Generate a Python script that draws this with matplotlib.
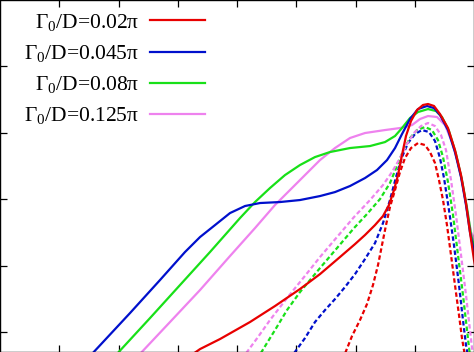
import matplotlib
matplotlib.use("Agg")
import matplotlib.pyplot as plt

plt.rcParams['mathtext.fontset'] = 'custom'
plt.rcParams['mathtext.rm'] = 'Liberation Serif'
plt.rcParams['mathtext.it'] = 'Liberation Serif:italic'
plt.rcParams['mathtext.bf'] = 'Liberation Serif:bold'

labels = [r"$\Gamma_0$/D=0.02π", r"$\Gamma_0$/D=0.045π", r"$\Gamma_0$/D=0.08π", r"$\Gamma_0$/D=0.125π"]
colors = ['#e80000', '#0010cc', '#18e018', '#ee82ee']

# solid curves
red_x = [3.207, 3.376, 3.713, 4.219, 4.641, 5.063, 5.401, 5.738, 5.992, 6.160, 6.329, 6.464, 6.565, 6.650,
         6.717, 6.785, 6.852, 6.937, 7.038, 7.139, 7.224, 7.325, 7.426, 7.561, 7.679, 7.781, 7.865, 7.932, 8.000, 8.034]
red_y = [-0.361, -0.256, -0.105, 0.151, 0.392, 0.648, 0.873, 1.130, 1.325, 1.461, 1.611, 1.747, 1.913, 2.139,
         2.364, 2.666, 2.952, 3.178, 3.343, 3.419, 3.434, 3.404, 3.283, 3.072, 2.741, 2.364, 1.943, 1.506, 1.084, 0.904]

blue_x = [1.519, 2.194, 2.700, 3.122, 3.376, 3.629, 3.882, 4.135, 4.388, 4.726, 5.063, 5.401, 5.654, 5.907,
          6.160, 6.363, 6.532, 6.667, 6.785, 6.920, 7.055, 7.207, 7.325, 7.426, 7.561, 7.679, 7.781, 7.865, 7.932, 8.000, 8.03]
blue_y = [-0.361, 0.286, 0.783, 1.205, 1.431, 1.611, 1.792, 1.898, 1.943, 1.958, 1.988, 2.048, 2.108, 2.199,
          2.319, 2.440, 2.590, 2.771, 2.982, 3.208, 3.358, 3.404, 3.373, 3.268, 3.042, 2.711, 2.334, 1.913, 1.506, 1.205, 1.05]

green_x = [1.941, 2.532, 3.038, 3.544, 4.051, 4.304, 4.557, 4.810, 5.063, 5.316, 5.570, 5.907, 6.245, 6.498,
           6.667, 6.785, 6.920, 7.055, 7.224, 7.359, 7.460, 7.578, 7.696, 7.797, 7.882, 7.949, 8.000, 8.03]
green_y = [-0.361, 0.211, 0.708, 1.205, 1.717, 1.958, 2.169, 2.364, 2.515, 2.635, 2.711, 2.771, 2.801, 2.861,
           2.952, 3.072, 3.223, 3.313, 3.358, 3.328, 3.238, 3.027, 2.681, 2.289, 1.867, 1.476, 1.295, 1.15]

violet_x = [2.329, 2.869, 3.376, 3.882, 4.304, 4.641, 5.063, 5.401, 5.654, 5.907, 6.160, 6.498, 6.751, 6.954,
            7.089, 7.224, 7.376, 7.511, 7.629, 7.730, 7.814, 7.882, 7.949, 8.000, 8.03]
violet_y = [-0.361, 0.151, 0.633, 1.145, 1.566, 1.913, 2.289, 2.590, 2.771, 2.922, 2.997, 3.042, 3.072, 3.117,
            3.208, 3.253, 3.238, 3.117, 2.861, 2.545, 2.199, 1.837, 1.506, 1.416, 1.30]

# dashed curves
red_d_x = [5.806, 5.941, 6.076, 6.194, 6.295, 6.380, 6.447, 6.515, 6.582, 6.667, 6.751, 6.835, 6.937, 7.055,
           7.173, 7.257, 7.342, 7.409, 7.477, 7.544, 7.612, 7.679, 7.747, 7.797, 7.848]
red_d_y = [-0.361, -0.060, 0.181, 0.422, 0.708, 1.009, 1.310, 1.611, 1.883, 2.139, 2.410, 2.620, 2.771, 2.846,
           2.816, 2.711, 2.545, 2.289, 1.988, 1.611, 1.160, 0.708, 0.256, -0.090, -0.361]

blue_d_x = [4.928, 5.148, 5.316, 5.485, 5.654, 5.823, 5.992, 6.160, 6.329, 6.464, 6.582, 6.684, 6.785, 6.886,
            7.004, 7.122, 7.241, 7.342, 7.426, 7.494, 7.578, 7.662, 7.747, 7.814, 7.865, 7.899]
blue_d_y = [-0.361, -0.090, 0.151, 0.331, 0.497, 0.678, 0.873, 1.099, 1.340, 1.641, 1.988, 2.334, 2.635, 2.846,
            2.982, 3.042, 3.012, 2.876, 2.620, 2.319, 1.837, 1.310, 0.708, 0.181, -0.196, -0.361]

green_d_x = [4.371, 4.641, 4.844, 5.063, 5.401, 5.688, 5.975, 6.194, 6.414, 6.582, 6.700, 6.802, 6.920, 7.038,
             7.173, 7.291, 7.392, 7.477, 7.561, 7.646, 7.730, 7.814, 7.882, 7.932]
green_d_y = [-0.361, 0.030, 0.331, 0.602, 0.964, 1.265, 1.566, 1.777, 2.003, 2.244, 2.500, 2.726, 2.921, 3.042,
             3.087, 3.042, 2.891, 2.635, 2.259, 1.762, 1.160, 0.557, 0.030, -0.361]

violet_d_x = [4.118, 4.354, 4.557, 4.844, 5.131, 5.401, 5.688, 5.975, 6.245, 6.464, 6.616, 6.751, 6.869, 6.987,
              7.105, 7.224, 7.342, 7.443, 7.527, 7.612, 7.696, 7.781, 7.865, 7.932, 7.983]
violet_d_y = [-0.361, -0.075, 0.181, 0.512, 0.828, 1.130, 1.431, 1.732, 1.988, 2.214, 2.410, 2.620, 2.831, 2.997,
              3.102, 3.148, 3.102, 2.967, 2.741, 2.289, 1.762, 1.160, 0.557, 0.030, -0.361]

x_ticks = [1, 2, 3, 4, 5, 6, 7]
y_ticks = [0, 1, 2, 3, 4]

fig = plt.figure(figsize=(4.74, 3.52), dpi=100)
ax = fig.add_axes([0, 0, 1, 1])

solid = [(red_x, red_y), (blue_x, blue_y), (green_x, green_y), (violet_x, violet_y)]
dashed = [(red_d_x, red_d_y), (blue_d_x, blue_d_y), (green_d_x, green_d_y), (violet_d_x, violet_d_y)]

handles = []
for (xs, ys), c in zip(dashed, colors):
    ax.plot(xs, ys, color=c, lw=1.6, dashes=(2.0, 1.2))
for (xs, ys), c, lab in reversed(list(zip(solid, colors, labels))):
    h, = ax.plot(xs, ys, color=c, lw=1.6, label=lab)
    handles.insert(0, h)

ax.set_xlim(0, 8)
ax.set_ylim(-0.3, 5.0)
ax.set_xticks(x_ticks)
ax.set_yticks(y_ticks)
ax.tick_params(direction='in', length=5, width=0.9, top=True, right=True,
               labelbottom=False, labelleft=False)
for s in ax.spines.values():
    s.set_linewidth(1.0)

leg = ax.legend(handles, labels, loc='upper right', bbox_to_anchor=(205 / 474, 1 - 12 / 352),
                markerfirst=False, frameon=False, borderpad=0, borderaxespad=0,
                handlelength=2.55, handletextpad=0.5, labelspacing=0.47,
                prop={'family': 'Liberation Serif', 'size': 15.5})

fig.savefig("out.png", dpi=100)
